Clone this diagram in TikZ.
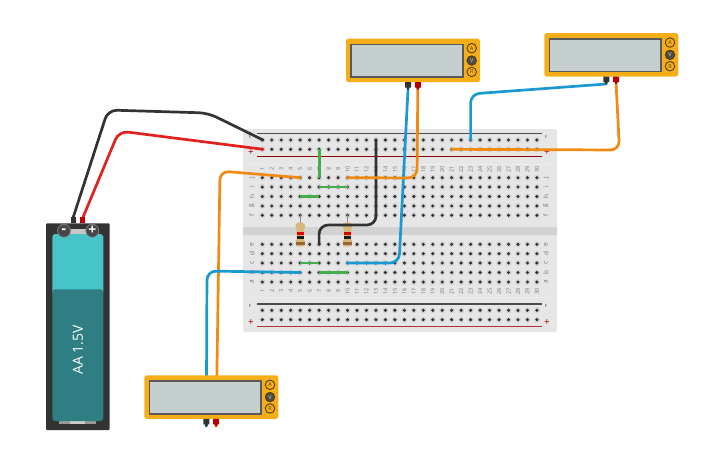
\documentclass[tikz,border=0pt]{standalone}
\usepackage{fontspec}
\setmainfont{Open Sans}
\definecolor{board}{HTML}{E6E6E6}
\definecolor{groove}{HTML}{D2D2D2}
\definecolor{meterbody}{HTML}{F5AE18}
\definecolor{screen}{HTML}{C6CFD0}
\definecolor{dark}{HTML}{333333}
\definecolor{wblue}{HTML}{1A98D2}
\definecolor{worange}{HTML}{F08A12}
\definecolor{wred}{HTML}{E0221F}
\definecolor{wgreen}{HTML}{45AE4A}
\definecolor{tan}{HTML}{D8B77A}
\definecolor{teallight}{HTML}{47C4C7}
\definecolor{tealdark}{HTML}{2F7E84}
\tikzset{
  wire/.style={line width=2.7pt,rounded corners=9pt,line cap=round},
  jumper/.style={line width=2.8pt,wgreen},
  holeh/.style={fill=black!17,draw=none},
  holed/.style={fill=black!82,draw=none},
  lab/.style={font=\fontsize{5.5}{6}\selectfont,text=black!55,rotate=90,inner sep=0pt},
  rail/.style={font=\fontsize{10}{10}\selectfont,inner sep=0pt},
  railm/.style={rail,rotate=90,text=black!75},
  railp/.style={rail,text=red!70!black},
  term/.style={circle,fill=black!72,draw=black!50,line width=0.7pt,minimum size=13pt,inner sep=0pt,text=white,font=\bfseries\fontsize{14}{14}\selectfont},
  btn/.style={circle,draw=black!65!meterbody,line width=0.9pt,minimum size=9.5pt,inner sep=0pt,font=\fontsize{5.5}{5.5}\selectfont,text=black!65!meterbody},
  meter/.pic={
    \fill[meterbody,rounded corners=2.5pt] (0,0) rectangle (134,43.5);
    \draw[black!65,fill=screen,line width=1.7pt] (5.2,5.8) rectangle (117,38.5);
    \node[btn] (-a) at (125.7,9.5) {A};
    \node[btn,fill=black!70,text=meterbody!60] (-v) at (125.7,21.8) {V};
    \node[btn] (-r) at (125.7,33.2) {R};
    \fill[dark] (59,43.5) rectangle (65,49) (60.5,49) -- (63.5,49) -- (63,51) -- (61,51) -- cycle;
    \fill[red!70!black] (68.8,43.5) rectangle (74.8,49) (70.3,49) -- (73.3,49) -- (72.8,51) -- (70.8,51) -- cycle;
  },
  resistor/.pic={
    \draw[black!45,line width=1.3pt] (0,0) -- (0,29.5);
    \fill[tan,rounded corners=2.5pt] (-3.4,7) rectangle (3.4,29);
    \fill[tan,rounded corners=2pt] (-4.7,8) rectangle (4.7,14);
    \fill[tan,rounded corners=2pt] (-4.7,24) rectangle (4.7,31);
    \fill[red!90!black] (-3.6,17) rectangle (3.6,19.5);
    \fill[black!90] (-3.6,21) rectangle (3.6,24);
    \fill[brown!80!black] (-4.7,26.5) rectangle (4.7,29.5);
  }
}
\begin{document}
\begin{tikzpicture}[x=1pt,y=-1pt]
\useasboundingbox (0,0) rectangle (725,453);
% breadboard
\fill[board,rounded corners=2pt] (243,129) rectangle (557,332);
\fill[groove] (243,226.5) rectangle (557,234.5);
\draw[white!92!black,line width=0.8pt] (243,164) -- (557,164) (243,297) -- (557,297);
\draw[black!70,line width=1.1pt] (257,133.4) -- (542,133.4) (257,304) -- (542,304);
\draw[red!55!black,line width=1.1pt] (257,156.3) -- (542,156.3);
\draw[red!60!black!80,line width=1.1pt] (257,326.7) -- (542,326.7);
\foreach \yy in {140,149.3,177.7,187,196.5,206,215.3,244.3,253.7,263,272.5,282,310.3,319.7}
  \foreach \n in {1,...,30} {
    \fill[holeh] ({252.83+9.47*\n},\yy) circle (3pt);
    \fill[holed] ({252.83+9.47*\n},\yy) circle (1.7pt);
  }
\foreach \n in {1,...,30} {
  \node[lab] (top\n) at ({252.83+9.47*\n},169) {\n};
  \node[lab] (bot\n) at ({252.83+9.47*\n},291) {\n};
}
\foreach \l/\yy in {j/177.7,i/187,h/196.5,g/206,f/215.3,e/244.3,d/253.7,c/263,b/272.5,a/282} {
  \node[lab,font=\fontsize{6.5}{7}\selectfont] (l\l) at (252,\yy) {\l};
  \node[lab,font=\fontsize{6.5}{7}\selectfont] (r\l) at (546,\yy) {\l};
}
\node[railm] (lm1) at (251,137) {-};
\node[railp] (lp1) at (251,153) {+};
\node[railm] (rm1) at (547,137) {-};
\node[railp] (rp1) at (547,153) {+};
\node[railm] (lm2) at (251,306) {-};
\node[railp] (lp2) at (251,323) {+};
\node[railm] (rm2) at (547,306) {-};
\node[railp] (rp2) at (547,323) {+};
% end points on the board
\coordinate (t1a) at (263,140);
\coordinate (t1b) at (263,149.3);
\coordinate (j5) at (300.2,177.7);
\coordinate (j10) at (347.5,177.7);
\coordinate (t13) at (376,140);
\coordinate (e7) at (319.1,244.3);
\coordinate (b5) at (300.2,272.5);
\coordinate (c10) at (347.5,263);
\coordinate (t23) at (470.6,140);
\coordinate (p21) at (451.7,149.3);
\coordinate (bblk) at (73,218);
\coordinate (bred) at (82.7,218);
% jumpers
\draw[jumper] (319.1,149.3) -- (319.1,177.7);
\draw[jumper] (319.1,187) -- (347.5,187);
\draw[jumper] (300.2,196.5) -- (319.1,196.5);
\draw[jumper] (300.2,263) -- (319.1,263);
\draw[jumper] (319.1,272.5) -- (347.5,272.5);
% resistors
\pic at (300.2,215.3) {resistor};
\pic at (347.5,215.3) {resistor};
% meter leads
\path (144.3,375.3) ++(62,51) coordinate (ablk) ++(9.8,0) coordinate (ared);
\path (346,38.7) ++(62,51) coordinate (mblk) ++(9.8,0) coordinate (mred);
\path (544.3,33) ++(62,51) coordinate (cblk) ++(9.8,0) coordinate (cred);
% wires
\draw[wire,dark] (t13) -- (376,225) -- (319.1,225) -- (e7);
\draw[wire,dark] (bblk) -- (108,110) -- (208,113) -- (t1a);
\draw[wire,wred] (bred) -- (119,131) -- (t1b);
\draw[wire,worange] (ared) -- (220,171) -- (j5);
\draw[wire,wblue] (ablk) -- (207,271) -- (b5);
\draw[wire,wblue] (mblk) -- (399,263) -- (c10);
\draw[wire,worange] (mred) -- (417,178) -- (j10);
\draw[wire,wblue] (cblk) -- (470.6,94) -- (t23);
\draw[wire,worange] (cred) -- (619.5,150) -- (p21);
% multimeters
\pic (ma) at (144.3,375.3) {meter};
\pic (mb) at (346,38.7) {meter};
\pic (mc) at (544.3,33) {meter};
% battery
\fill[dark,rounded corners=1pt] (46,223.3) rectangle (109.7,430);
\fill[black!22] (64,228.5) rectangle (92.3,234);
\fill[black!40] (59,418) rectangle (96,423.5);
\fill[black!20] (70,419) rectangle (85,423.5);
\fill[teallight,rounded corners=3pt] (52.3,234) rectangle (103.3,295);
\fill[tealdark,rounded corners=3pt] (52.3,289.3) rectangle (103.3,421);
\node[term] (neg) at (64,230.7) {-};
\node[term] (pos) at (92.3,230.7) {+};
\fill[dark] (70.5,217) rectangle (75.5,223.3);
\fill[red!75!black] (80.2,217) rectangle (85.2,223.3);
\node[rotate=90,text=white,font=\fontsize{14}{14}\selectfont] (lbl) at (78,350) {AA 1.5V};
\end{tikzpicture}
\end{document}
